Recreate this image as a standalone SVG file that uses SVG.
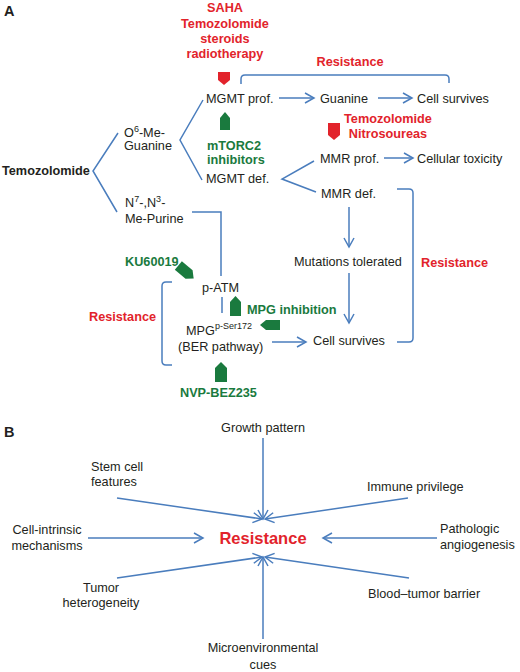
<svg xmlns="http://www.w3.org/2000/svg" width="520" height="672" viewBox="0 0 520 672">
<defs>
<style>
.t{font-family:"Liberation Sans",Arial,sans-serif;font-size:12.7px;fill:#231f20}
.b{font-weight:bold}
.big{font-size:16.5px}
.lbl{font-size:14.5px}
.red{fill:#e2232b;font-weight:bold}
.grn{fill:#1a7a3e;font-weight:bold}
.ln{fill:none;stroke:#4a7dbd;stroke-width:1.5}
.ar{fill:none;stroke:#4a7dbd;stroke-width:1.5;marker-end:url(#ah)}
.rp{fill:#e2232b}
.gp{fill:#1a7a3e}
</style>
<marker id="ah" markerUnits="userSpaceOnUse" markerWidth="14" markerHeight="14" refX="10" refY="6" orient="auto" viewBox="0 0 14 12">
<path d="M1,1 L10,6 L1,11" fill="none" stroke="#4a7dbd" stroke-width="1.5"/>
</marker>
</defs>
<rect width="520" height="672" fill="#fff"/>

<text class="t b lbl" x="4" y="16">A</text>
<text class="t b lbl" x="4" y="437">B</text>

<g id="connectors">
<path class="ln" d="M241,84 V79 Q241,75 245,75 H445 Q449,75 449,79 V83"/>
<path class="ar" d="M279,98 H314"/>
<path class="ar" d="M378,98 H412"/>
<path class="ar" d="M384,158 H413"/>
<path class="ln" d="M314,161 L282,179 L316,192"/>
<path class="ln" d="M203,100 L180,140 L202,180"/>
<path class="ln" d="M118,133 L93,171 L117,212"/>
<path class="ln" d="M192,212 H221 V276"/>
<path class="ln" d="M222,297 V313"/>
<path class="ln" d="M172,282 H166 Q162,282 162,286 V361 Q162,365 166,365 H172"/>
<path class="ar" d="M272,342 H306"/>
<path class="ln" d="M397,189 H409 Q413,189 413,193 V338 Q413,342 409,342 H397"/>
<path class="ar" d="M349,207 V247"/>
<path class="ar" d="M349,273 V323"/>
<path class="ar" d="M263,438 V519"/>
<path class="ar" d="M117,498 L262,519"/>
<path class="ar" d="M408,498 L265,519"/>
<path class="ar" d="M88,538 H203"/>
<path class="ar" d="M437,538 H323"/>
<path class="ar" d="M117,578 L262,557"/>
<path class="ar" d="M409,578 L265,557"/>
<path class="ar" d="M263,639 V557"/>
</g>

<g id="saha">
<text class="t red" text-anchor="middle" x="225" y="12">SAHA</text>
<text class="t red" text-anchor="middle" x="225" y="27.5">Temozolomide</text>
<text class="t red" text-anchor="middle" x="225" y="43">steroids</text>
<text class="t red" text-anchor="middle" x="225" y="58">radiotherapy</text>
<path class="rp" d="M218,72 H230 V80 L224,85 L218,80 Z"/>
</g>
<g id="resistance-top"><text class="t red" text-anchor="middle" x="350" y="66">Resistance</text></g>
<g id="temozolomide"><text class="t b" x="2" y="175">Temozolomide</text></g>
<g id="o6"><text class="t" x="124" y="137">O<tspan font-size="9" dy="-5">6</tspan><tspan dy="5">-Me-</tspan></text><text class="t" x="124" y="150">Guanine</text></g>
<g id="n7"><text class="t" x="125" y="207">N<tspan font-size="9" dy="-5">7</tspan><tspan dy="5">-,N</tspan><tspan font-size="9" dy="-5">3</tspan><tspan dy="5">-</tspan></text><text class="t" x="125" y="223">Me-Purine</text></g>
<g id="mgmt-prof"><text class="t" x="206" y="103">MGMT prof.</text></g>
<g id="guanine"><text class="t" x="320" y="103">Guanine</text></g>
<g id="cell-survives-1"><text class="t" x="417" y="103">Cell survives</text></g>
<g id="mtorc2">
<path class="gp" d="M220,130 H230 V118 L225,112 L220,118 Z"/>
<text class="t grn" x="207" y="150">mTORC2</text>
<text class="t grn" x="207" y="164">inhibitors</text>
</g>
<g id="mgmt-def"><text class="t" x="206" y="183">MGMT def.</text></g>
<g id="temo-nitro">
<path class="rp" d="M328,123 H340 V135 L334,140 L328,135 Z"/>
<text class="t red" text-anchor="middle" x="388" y="123">Temozolomide</text>
<text class="t red" text-anchor="middle" x="388" y="138">Nitrosoureas</text>
</g>
<g id="mmr-prof"><text class="t" x="320" y="163">MMR prof.</text></g>
<g id="cellular-toxicity"><text class="t" x="417" y="163">Cellular toxicity</text></g>
<g id="mmr-def"><text class="t" x="321" y="198">MMR def.</text></g>
<g id="mutations"><text class="t" x="294" y="266">Mutations tolerated</text></g>
<g id="resistance-right"><text class="t red" x="421" y="267">Resistance</text></g>
<g id="ku60019">
<text class="t grn" x="125" y="266">KU60019</text>
<path class="gp" transform="translate(186,272) rotate(40)" d="M-10,-5.5 H4 L10,0 L4,5.5 H-10 Z"/>
</g>
<g id="patm"><text class="t" x="202" y="292">p-ATM</text></g>
<g id="mpg-inhibition">
<path class="gp" d="M230,316 H241 V302 L235.5,296 L230,302 Z"/>
<text class="t grn" x="247" y="314">MPG inhibition</text>
<path class="gp" d="M280,320 V330 H266 L260,325 L266,320 Z"/>
</g>
<g id="resistance-left"><text class="t red" text-anchor="end" x="156" y="321">Resistance</text></g>
<g id="mpg">
<text class="t" x="186" y="335">MPG<tspan font-size="9" dy="-6">p-Ser172</tspan></text>
<text class="t" x="178" y="351">(BER pathway)</text>
</g>
<g id="cell-survives-2"><text class="t" x="313" y="345">Cell survives</text></g>
<g id="nvp">
<path class="gp" d="M215,382 H227 V368 L221,362 L215,368 Z"/>
<text class="t grn" x="180" y="397">NVP-BEZ235</text>
</g>

<g id="growth"><text class="t" text-anchor="middle" x="263" y="432">Growth pattern</text></g>
<g id="stem"><text class="t" x="91" y="471">Stem cell</text><text class="t" x="91" y="486">features</text></g>
<g id="immune"><text class="t" x="367" y="491">Immune privilege</text></g>
<g id="cell-intrinsic"><text class="t" text-anchor="middle" x="47" y="534">Cell-intrinsic</text><text class="t" text-anchor="middle" x="47" y="550">mechanisms</text></g>
<g id="resistance-b"><text class="t red big" text-anchor="middle" x="263" y="544">Resistance</text></g>
<g id="pathologic"><text class="t" x="440" y="533">Pathologic</text><text class="t" x="440" y="549">angiogenesis</text></g>
<g id="tumor-het"><text class="t" text-anchor="middle" x="101" y="592">Tumor</text><text class="t" text-anchor="middle" x="101" y="607">heterogeneity</text></g>
<g id="blood"><text class="t" x="368" y="598">Blood–tumor barrier</text></g>
<g id="micro"><text class="t" text-anchor="middle" x="263" y="652">Microenvironmental</text><text class="t" text-anchor="middle" x="263" y="669">cues</text></g>
</svg>
